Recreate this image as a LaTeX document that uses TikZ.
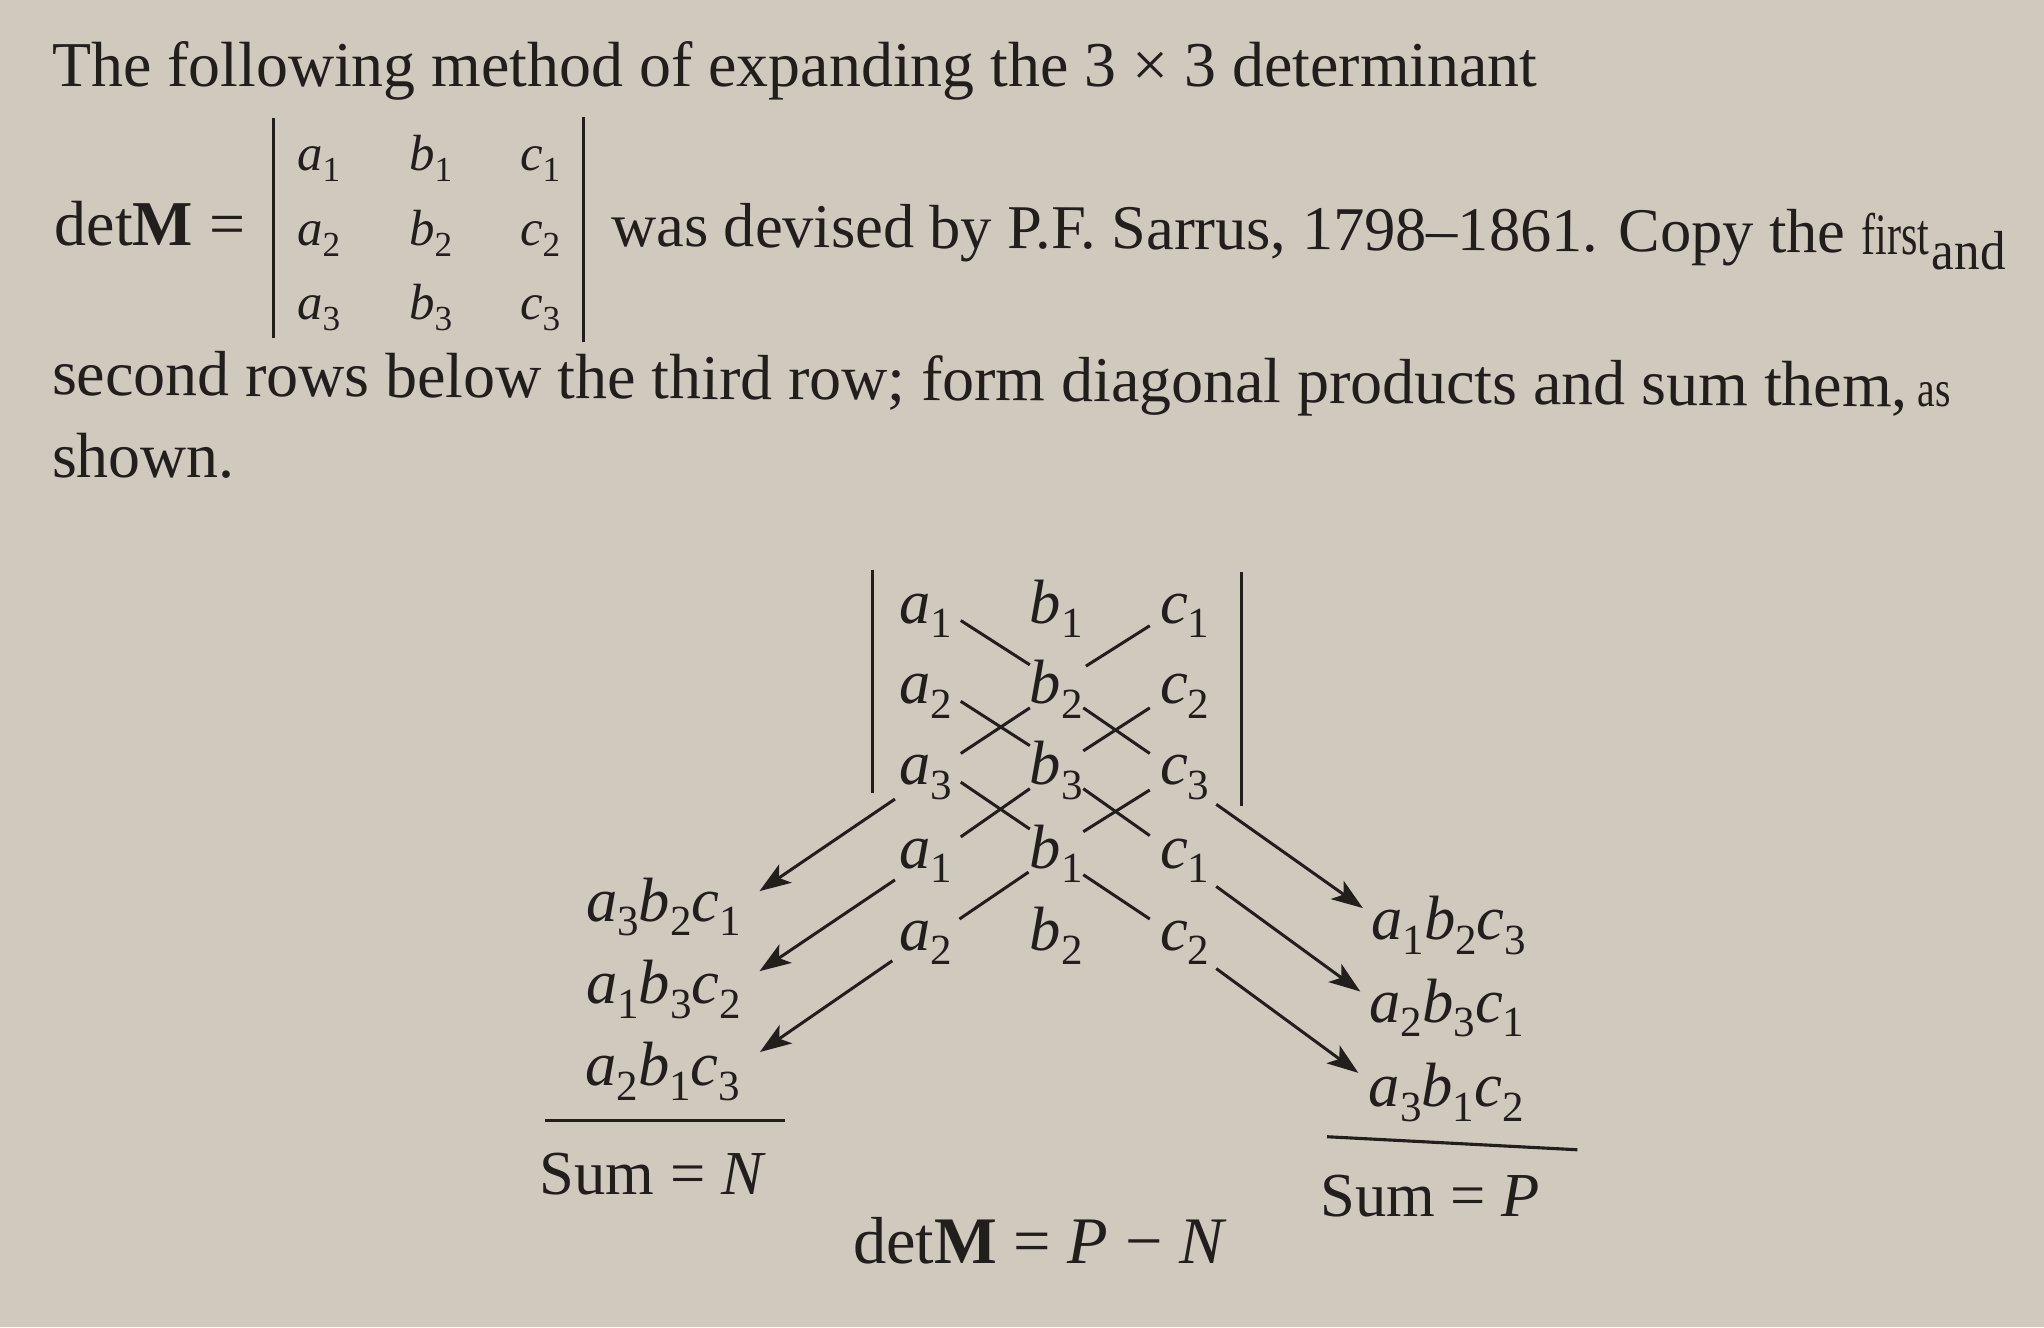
\documentclass[tikz,border=0pt]{standalone}
\usepackage{fontspec}
\setmainfont{Liberation Serif}
\usetikzlibrary{arrows.meta,calc}
\definecolor{pagebg}{RGB}{208,201,190}
\definecolor{ink}{RGB}{34,30,28}
\newcommand{\myent}[2]{\textit{#1}\raisebox{-5.5pt}{\fontsize{16.5}{18}\selectfont #2}}
\newcommand{\mysm}[2]{\textit{#1}\raisebox{-4.2pt}{\fontsize{13.5}{15}\selectfont #2}}
\newcommand{\myprod}[3]{\myent{a}{#1}\myent{b}{#2}\myent{c}{#3}}
\begin{document}
\begin{tikzpicture}[x=0.5pt,y=-0.5pt,
  body/.style={anchor=base west,inner sep=0pt,outer sep=0pt,text=ink,font=\fontsize{24.5}{29}\selectfont},
  ent/.style={anchor=base west,inner sep=0pt,outer sep=0pt,text=ink,font=\fontsize{24}{28}\selectfont},
  sment/.style={anchor=base west,inner sep=0pt,outer sep=0pt,text=ink,font=\fontsize{19.5}{22}\selectfont},
  seg/.style={draw=ink,line width=1.15pt},
  arr/.style={draw=ink,line width=1.15pt,-{Stealth[length=12pt,width=8.5pt,inset=3pt]}},
  bar/.style={draw=ink,line width=1.2pt},
  rule/.style={draw=ink,line width=1.2pt}]
\path[fill=pagebg,use as bounding box] (0,0) rectangle (1568,1018);

% ---------- paragraph ----------
\node[body] (l1) at (40,66) {The following method of expanding the 3 × 3 determinant};
\node[body] (detl) at (42,188) {det\textbf{M} =};
\draw[bar] (209.7,90.6) -- (209.7,259);
\draw[bar] (447.5,89.5) -- (447.5,262);
\node[sment] (m11) at (228,131) {\mysm{a}{1}};
\node[sment] (m12) at (314,131) {\mysm{b}{1}};
\node[sment] (m13) at (399,131) {\mysm{c}{1}};
\node[sment] (m21) at (228,188) {\mysm{a}{2}};
\node[sment] (m22) at (314,188) {\mysm{b}{2}};
\node[sment] (m23) at (399,188) {\mysm{c}{2}};
\node[sment] (m31) at (228,245) {\mysm{a}{3}};
\node[sment] (m32) at (314,245) {\mysm{b}{3}};
\node[sment] (m33) at (399,245) {\mysm{c}{3}};
\node[body,font=\fontsize{23.9}{29}\selectfont,rotate=-0.3] (l2) at (469,189) {was devised by P.F. Sarrus, 1798–1861. Copy the};
\node[body] (l2b) at (1428,195) {\scalebox{0.66}[0.92]{first}};
\node[body] (l2c) at (1482,207) {\scalebox{0.8}[0.86]{and}};
\node[body,rotate=-0.36] (l3) at (40,303) {second rows below the third row; form diagonal products and sum them,};
\node[body] (l3b) at (1471,312) {\scalebox{0.62}[0.8]{as}};
\node[body] (l4) at (40,366) {shown.};

% ---------- Sarrus scheme ----------
\draw[bar] (669,437) -- (669,608);
\draw[bar] (952.6,439) -- (952.6,618);

\node[ent] (a1) at (690,478) {\myent{a}{1}};
\node[ent] (b1) at (790,478) {\myent{b}{1}};
\node[ent] (c1) at (890,478) {\myent{c}{1}};
\node[ent] (a2) at (690,540) {\myent{a}{2}};
\node[ent] (b2) at (790,540) {\myent{b}{2}};
\node[ent] (c2) at (890,540) {\myent{c}{2}};
\node[ent] (a3) at (690,602) {\myent{a}{3}};
\node[ent] (b3) at (790,602) {\myent{b}{3}};
\node[ent] (c3) at (890,602) {\myent{c}{3}};
\node[ent] (a4) at (690,666) {\myent{a}{1}};
\node[ent] (b4) at (790,666) {\myent{b}{1}};
\node[ent] (c4) at (890,666) {\myent{c}{1}};
\node[ent] (a5) at (690,729) {\myent{a}{2}};
\node[ent] (b5) at (790,729) {\myent{b}{2}};
\node[ent] (c5) at (890,729) {\myent{c}{2}};

% down-right a -> b
\draw[seg] ($(a1.base west)+(47,-2)$) -- ($(b2.base west)+(0,-30)$);
\draw[seg] ($(a2.base west)+(47,-2)$) -- ($(b3.base west)+(0,-30)$);
\draw[seg] ($(a3.base west)+(47,-2)$) -- ($(b4.base west)+(0,-30)$);
% up-right a -> b
\draw[seg] ($(a3.base west)+(47,-24)$) -- ($(b2.base west)+(0,3)$);
\draw[seg] ($(a4.base west)+(47,-24)$) -- ($(b3.base west)+(0,3)$);
\draw[seg] ($(a5.base west)+(46,-24)$) -- ($(b4.base west)+(-1,3)$);
% down-right b -> c
\draw[seg] ($(b2.base west)+(41,3)$) -- ($(c3.base west)+(-8,-24)$);
\draw[seg] ($(b3.base west)+(41,3)$) -- ($(c4.base west)+(-8,-25)$);
\draw[seg] ($(b4.base west)+(41,5)$) -- ($(c5.base west)+(-8,-24)$);
% up-right c -> b
\draw[seg] ($(c1.base west)+(-8,2)$) -- ($(b2.base west)+(43,-29)$);
\draw[seg] ($(c2.base west)+(-8,3)$) -- ($(b3.base west)+(41,-26)$);
\draw[seg] ($(c3.base west)+(-8,4)$) -- ($(b4.base west)+(41,-28)$);

% products
\node[ent] (n1) at (449.6,706.6) {\myprod{3}{2}{1}};
\node[ent] (n2) at (449.6,770) {\myprod{1}{3}{2}};
\node[ent] (n3) at (449,833) {\myprod{2}{1}{3}};
\node[ent] (p1) at (1052,721) {\myprod{1}{2}{3}};
\node[ent] (p2) at (1050.5,784) {\myprod{2}{3}{1}};
\node[ent] (p3) at (1050,849) {\myprod{3}{1}{2}};

% arrows
\draw[arr] ($(a3.base west)+(-3.5,11)$) -- ($(n1.base west)+(133,-23)$);
\draw[arr] ($(a4.base west)+(-3.5,9)$) -- ($(n2.base west)+(133,-25)$);
\draw[arr] ($(a5.base west)+(-5.5,8)$) -- ($(n3.base west)+(134,-26)$);
\draw[arr] ($(c3.base west)+(43,15)$) -- ($(p1.base west)+(-6.5,-24.4)$);
\draw[arr] ($(c4.base west)+(43,14)$) -- ($(p2.base west)+(-7,-23.4)$);
\draw[arr] ($(c5.base west)+(43,14)$) -- ($(p3.base west)+(-8,-26)$);

% sums
\draw[rule] (418.4,859.7) -- (602,859.7);
\draw[rule] (1018,872) -- (1210,882);
\node[ent] (sn) at (414,916) {Sum = \textit{N}};
\node[ent] (sp) at (1013,933) {Sum = \textit{P}};
\node[ent,font=\fontsize{25.5}{30}\selectfont] (det) at (654.5,969) {det\textbf{M} = \textit{P} − \textit{N}};
\end{tikzpicture}
\end{document}
